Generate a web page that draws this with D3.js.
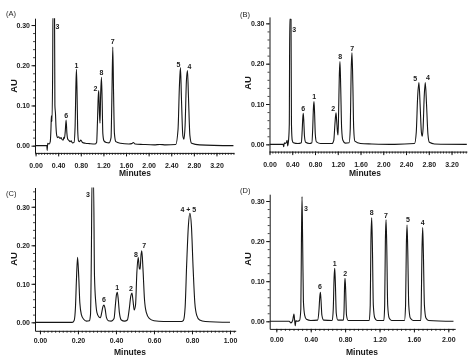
<!DOCTYPE html>
<html><head><meta charset="utf-8">
<script src="https://cdn.jsdelivr.net/npm/d3@7"></script>
<style>
html,body{margin:0;padding:0;background:#fff;}
svg{display:block;transform:translateZ(0);will-change:transform;}
text{font-family:"Liberation Sans",Arial,sans-serif;fill:#1a1a1a;}
</style></head>
<body>
<svg id="chart" width="474" height="359"></svg>
<script>
// ---------- data ----------
const yTicks = [0, 0.1, 0.2, 0.3];
const xTicksA = [0, 0.4, 0.8, 1.2, 1.6, 2.0, 2.4, 2.8, 3.2];
const xTicksB = [0, 0.4, 0.8, 1.2, 1.6, 2.0, 2.4, 2.8, 3.2];
const xTicksC = [0, 0.2, 0.4, 0.6, 0.8, 1.0];
const xTicksD = [0, 0.4, 0.8, 1.2, 1.6, 2.0];

const traceA = [[-0.01,0],[0.20,0],[0.205,-0.012],[0.215,0.006],[0.24,0.004],[0.26,0.01],[0.272,0.04],[0.28,0.074],[0.29,0.06],[0.303,0.2],[0.308,0.34],[0.335,0.34],[0.342,0.1],[0.352,0.08],[0.362,0.045],[0.375,0.025],[0.39,0.02],[0.41,0.022],[0.43,0.018],[0.45,0.02],[0.47,0.015],[0.49,0.014],[0.50,0.021],[0.51,0.018],[0.525,0.035],[0.54,0.064],[0.555,0.03],[0.57,0.016],[0.59,0.013],[0.61,0.01],[0.63,0.012],[0.65,0.007],[0.68,0.008],[0.70,0.05],[0.712,0.14],[0.723,0.19],[0.734,0.13],[0.745,0.04],[0.76,0.012],[0.78,0.01],[0.80,0.014],[0.83,0.008],[0.88,0.006],[0.95,0.005],[1.05,0.004],[1.08,0.008],[1.095,0.06],[1.108,0.12],[1.118,0.137],[1.13,0.08],[1.14,0.056],[1.15,0.12],[1.165,0.17],[1.178,0.11],[1.19,0.03],[1.21,0.012],[1.25,0.008],[1.30,0.007],[1.335,0.02],[1.35,0.12],[1.366,0.245],[1.38,0.13],[1.395,0.03],[1.42,0.01],[1.5,0.006],[1.65,0.004],[1.70,0.005],[1.73,0.008],[1.76,0.004],[1.9,0.003],[2.1,0.002],[2.2,0.003],[2.3,0.002],[2.48,0.003],[2.52,0.04],[2.545,0.15],[2.563,0.194],[2.58,0.12],[2.605,0.025],[2.625,0.016],[2.645,0.05],[2.668,0.16],[2.687,0.187],[2.705,0.12],[2.73,0.025],[2.76,0.006],[2.9,0.002],[3.5,0.0]];

const traceB = [[0,0],[0.24,0],[0.25,-0.006],[0.26,0.004],[0.27,0.002],[0.30,0.006],[0.31,0.01],[0.32,-0.004],[0.335,0.01],[0.348,0.05],[0.356,0.31],[0.378,0.31],[0.386,0.05],[0.40,0.01],[0.42,0.004],[0.5,0.002],[0.56,0.004],[0.575,0.035],[0.585,0.065],[0.594,0.077],[0.604,0.055],[0.615,0.02],[0.635,0.005],[0.7,0.002],[0.745,0.004],[0.76,0.04],[0.772,0.09],[0.782,0.106],[0.792,0.08],[0.805,0.025],[0.825,0.006],[0.9,0.002],[1.1,0.002],[1.13,0.01],[1.15,0.05],[1.169,0.078],[1.18,0.06],[1.195,0.03],[1.205,0.023],[1.215,0.08],[1.228,0.175],[1.239,0.205],[1.252,0.14],[1.268,0.04],[1.29,0.01],[1.33,0.003],[1.40,0.004],[1.42,0.04],[1.435,0.18],[1.45,0.227],[1.465,0.15],[1.48,0.04],[1.50,0.008],[1.6,0.002],[1.8,0.001],[2.2,0.0],[2.55,0.002],[2.58,0.03],[2.605,0.12],[2.627,0.153],[2.647,0.1],[2.67,0.03],[2.685,0.02],[2.70,0.04],[2.72,0.12],[2.739,0.153],[2.76,0.1],[2.785,0.025],[2.81,0.005],[2.9,0.001],[3.47,0]];

const traceC = [[-0.026,0],[0.17,0],[0.18,0.005],[0.187,0.04],[0.192,0.11],[0.198,0.169],[0.204,0.12],[0.21,0.05],[0.218,0.02],[0.23,0.008],[0.245,0.003],[0.26,0.004],[0.266,0.02],[0.271,0.2],[0.274,0.37],[0.282,0.37],[0.287,0.12],[0.294,0.05],[0.30,0.025],[0.31,0.014],[0.318,0.012],[0.325,0.025],[0.331,0.04],[0.337,0.045],[0.343,0.035],[0.35,0.012],[0.36,0.004],[0.375,0.003],[0.39,0.01],[0.397,0.045],[0.402,0.07],[0.407,0.078],[0.412,0.06],[0.418,0.025],[0.428,0.006],[0.445,0.003],[0.46,0.006],[0.47,0.035],[0.478,0.068],[0.484,0.076],[0.49,0.055],[0.496,0.032],[0.503,0.045],[0.51,0.13],[0.517,0.169],[0.523,0.14],[0.527,0.138],[0.532,0.175],[0.536,0.186],[0.542,0.14],[0.55,0.06],[0.56,0.025],[0.575,0.01],[0.6,0.004],[0.65,0.002],[0.745,0.002],[0.755,0.005],[0.764,0.04],[0.772,0.15],[0.781,0.25],[0.789,0.283],[0.797,0.25],[0.806,0.14],[0.815,0.05],[0.825,0.018],[0.84,0.006],[0.87,0.002],[1.0,0.0]];

const traceD = [[-0.077,0],[0.15,0],[0.17,-0.004],[0.19,0.002],[0.205,0.018],[0.212,0.005],[0.22,-0.011],[0.228,0.002],[0.24,0.0],[0.27,0.002],[0.285,0.03],[0.292,0.2],[0.299,0.311],[0.306,0.2],[0.315,0.05],[0.33,0.015],[0.35,0.005],[0.40,0.002],[0.48,0.003],[0.495,0.025],[0.505,0.06],[0.512,0.072],[0.519,0.055],[0.53,0.015],[0.55,0.003],[0.65,0.002],[0.662,0.03],[0.672,0.11],[0.679,0.132],[0.686,0.1],[0.697,0.02],[0.715,0.003],[0.78,0.003],[0.788,0.03],[0.793,0.085],[0.799,0.107],[0.806,0.08],[0.816,0.015],[0.835,0.002],[1.08,0.002],[1.092,0.04],[1.1,0.2],[1.109,0.258],[1.117,0.19],[1.128,0.04],[1.145,0.008],[1.17,0.002],[1.25,0.002],[1.26,0.04],[1.268,0.2],[1.276,0.253],[1.284,0.19],[1.295,0.04],[1.312,0.008],[1.34,0.002],[1.49,0.002],[1.503,0.04],[1.512,0.19],[1.52,0.24],[1.528,0.18],[1.54,0.04],[1.558,0.008],[1.59,0.002],[1.68,0.002],[1.685,0.04],[1.694,0.18],[1.702,0.234],[1.71,0.17],[1.722,0.04],[1.74,0.008],[1.77,0.002],[2.06,0]];

// peak labels: [text, minutes, AU] (anchor of label)
const labelsA = [["3",0.386,0.296],["6",0.54,0.075],["1",0.722,0.2],["2",1.058,0.143],["8",1.165,0.182],["7",1.366,0.258],["5",2.527,0.2025],["4",2.722,0.197]];
const labelsB = [["3",0.436,0.285],["6",0.594,0.089],["1",0.787,0.118],["2",1.121,0.089],["8",1.244,0.219],["7",1.455,0.238],["5",2.562,0.164],["4",2.786,0.166]];
const labelsC = [["3",0.253,0.331],["6",0.337,0.059],["1",0.407,0.091],["2",0.479,0.088],["8",0.505,0.175],["7",0.549,0.2],["4 + 5",0.781,0.294]];
const labelsD = [["3",0.345,0.282],["6",0.508,0.086],["1",0.679,0.143],["2",0.802,0.12],["8",1.109,0.272],["7",1.276,0.265],["5",1.531,0.253],["4",1.702,0.247]];

// ---------- layout ----------
const panels = [
  {id:"A", tag:"(A)", trace:traceA, labels:labelsA, xTicks:xTicksA, minorStep:0.05,
   xDom:[-0.01,3.51], xRng:[35,234], yDom:[-0.018,0.317], yRng:[152.9,18.2],
   tagPos:[6,16], auPos:[13,86], minPos:[135,176], xLabY:165},
  {id:"B", tag:"(B)", trace:traceB, labels:labelsB, xTicks:xTicksB, minorStep:0.05,
   xDom:[0,3.47], xRng:[269.5,466.9], yDom:[-0.018,0.316], yRng:[151.6,16.9],
   tagPos:[240,17], auPos:[247,83], minPos:[365,176], xLabY:164},
  {id:"C", tag:"(C)", trace:traceC, labels:labelsC, xTicks:xTicksC, minorStep:0.02,
   xDom:[-0.026,1.03], xRng:[35,235.7], yDom:[-0.022,0.35], yRng:[330.8,187.5],
   tagPos:[6,196], auPos:[13,259], minPos:[130,355], xLabY:340},
  {id:"D", tag:"(D)", trace:traceD, labels:labelsD, xTicks:xTicksD, minorStep:0.05,
   xDom:[-0.077,2.08], xRng:[269.7,455.2], yDom:[-0.019,0.317], yRng:[328.9,194.2],
   tagPos:[240,193], auPos:[247,259], minPos:[362,355], xLabY:339.5}
];

const svg = d3.select("#chart");
const fmt = d3.format(".2f");
const ink = "#151515";

panels.forEach(p => {
  const x = d3.scaleLinear().domain(p.xDom).range(p.xRng);
  const y = d3.scaleLinear().domain(p.yDom).range(p.yRng);
  const g = svg.append("g");

  const cid = "clip" + p.id;
  svg.append("clipPath").attr("id", cid).append("rect")
    .attr("x", p.xRng[0]).attr("y", p.yRng[1])
    .attr("width", p.xRng[1]-p.xRng[0]).attr("height", p.yRng[0]-p.yRng[1]);

  const xMinor = d3.range(0, p.xDom[1]+1e-9, p.minorStep).filter(v => v >= p.xDom[0]);
  const yMinor = d3.range(0, p.yDom[1]+1e-9, 0.02);

  g.append("g").attr("transform", `translate(0,${p.yRng[0]})`)
    .call(d3.axisBottom(x).tickValues(xMinor).tickSize(2).tickFormat("").tickSizeOuter(0))
    .call(a => a.select(".domain").remove())
    .call(a => a.selectAll("line").attr("stroke", ink).attr("stroke-width", 0.8));
  g.append("g").attr("transform", `translate(${p.xRng[0]},0)`)
    .call(d3.axisLeft(y).tickValues(yMinor).tickSize(2).tickFormat("").tickSizeOuter(0))
    .call(a => a.select(".domain").remove())
    .call(a => a.selectAll("line").attr("stroke", ink).attr("stroke-width", 0.8));

  const xa = g.append("g").attr("transform", `translate(0,${p.yRng[0]})`)
    .call(d3.axisBottom(x).tickValues(p.xTicks).tickFormat(fmt).tickSize(3.5).tickSizeOuter(0).tickPadding(2));
  xa.select(".domain").attr("stroke", ink).attr("stroke-width", 1);
  xa.selectAll("line").attr("stroke", ink);
  xa.selectAll("text").attr("font-size", 7).attr("font-weight", "bold")
    .attr("font-family", '"Liberation Sans",Arial,sans-serif').attr("fill", ink)
    .attr("y", null).attr("dy", null)
    .attr("transform", `translate(0,${p.xLabY - p.yRng[0]})`).attr("dominant-baseline", "central");

  const ya = g.append("g").attr("transform", `translate(${p.xRng[0]},0)`)
    .call(d3.axisLeft(y).tickValues(yTicks).tickFormat(fmt).tickSize(3.5).tickSizeOuter(0).tickPadding(1.5));
  ya.select(".domain").attr("stroke", ink).attr("stroke-width", 1);
  ya.selectAll("line").attr("stroke", ink);
  ya.selectAll("text").attr("font-size", 7).attr("font-weight", "bold")
    .attr("font-family", '"Liberation Sans",Arial,sans-serif').attr("fill", ink);

  const line = d3.line().x(d => x(d[0])).y(d => y(d[1])).curve(d3.curveMonotoneX);
  g.append("path").datum(p.trace).attr("clip-path", `url(#${cid})`)
    .attr("d", line).attr("fill", "none").attr("stroke", ink).attr("stroke-width", 1.1)
    .attr("stroke-linejoin", "round");

  g.selectAll("text.pk").data(p.labels).join("text").attr("class", "pk")
    .attr("x", d => x(d[1])).attr("y", d => y(d[2]))
    .attr("text-anchor", "middle").attr("dominant-baseline", "central")
    .attr("font-size", 7).attr("font-weight", "bold").attr("fill", ink).text(d => d[0]);

  g.append("text").attr("x", p.tagPos[0]).attr("y", p.tagPos[1])
    .attr("font-size", 7.5).attr("fill", ink).text(p.tag);
  g.append("text").attr("transform", `translate(${p.auPos[0]},${p.auPos[1]}) rotate(-90)`)
    .attr("text-anchor", "middle").attr("dominant-baseline", "central")
    .attr("font-size", 9.5).attr("font-weight", "bold").attr("fill", ink).text("AU");
  g.append("text").attr("x", p.minPos[0]).attr("y", p.minPos[1])
    .attr("text-anchor", "middle").attr("font-size", 8.5).attr("font-weight", "bold").attr("fill", ink).text("Minutes");
});
</script>
</body></html>
